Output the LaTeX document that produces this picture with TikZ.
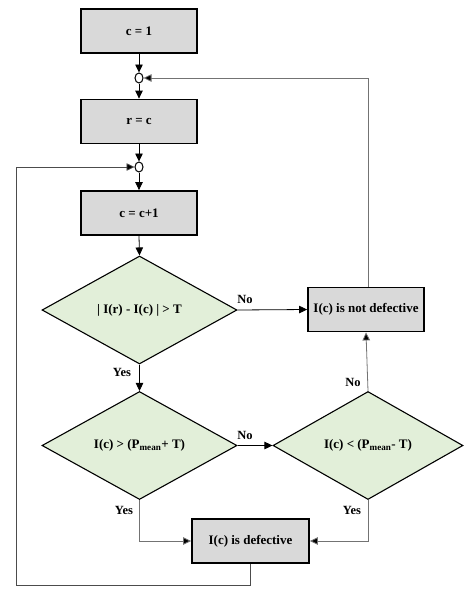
\documentclass[tikz,border=0pt]{standalone}
\usepackage{fontspec}
\setmainfont{Liberation Serif}
\usetikzlibrary{shapes.geometric,arrows.meta}
\definecolor{boxgray}{HTML}{D9D9D9}
\definecolor{dgreen}{HTML}{E2EFD9}
\tikzset{
  procbox/.style={draw=black, line width=1.8pt, fill=boxgray, minimum width=116pt, minimum height=44pt, inner sep=0pt, font=\fontsize{13}{15}\selectfont\bfseries},
  decbox/.style={draw=black, line width=1.1pt, fill=dgreen, shape=diamond, aspect=1.8, minimum width=195pt, minimum height=108pt, inner sep=0pt, font=\fontsize{13}{15}\selectfont\bfseries},
  junc/.style={draw=black, line width=1pt, fill=white, ellipse, minimum width=8pt, minimum height=10pt, inner sep=0pt},
  flow/.style={draw=black, line width=0.8pt, -{Triangle[length=8pt,width=7.5pt]}},
  gflow/.style={draw=black!55, line width=0.8pt, -{Triangle[length=8pt,width=7.5pt,fill=black]}},
  lab/.style={font=\fontsize{12.5}{14}\selectfont\bfseries, inner sep=0pt}
}
\begin{document}
\begin{tikzpicture}[x=1pt,y=-1pt]
\useasboundingbox (0,0) rectangle (474,592);
\node[procbox] (c1) at (139,31) {c = 1};
\node[junc] (j1) at (139,78) {};
\node[procbox] (rc) at (139,121.5) {r = c};
\node[junc] (j2) at (139,167) {};
\node[procbox] (cc) at (139,213) {c = c+1};
\node[decbox] (d1) at (139.5,310) {| I(r) - I(c) | > T};
\node[procbox] (nd) at (366,309.5) {I(c) is not defective};
\node[decbox] (d2) at (139.5,445.5) {I(c) > (P\textsubscript{mean}+ T)};
\node[decbox, minimum width=190pt] (d3) at (368,445.5) {I(c) < (P\textsubscript{mean}- T)};
\node[procbox, minimum width=117pt] (def) at (250.5,541) {I(c) is defective};
\coordinate (lb) at (250.5,585);
\coordinate (ll) at (16,585);

\draw[flow] (c1.south) -- (j1.north);
\draw[flow] (j1.south) -- (rc.north);
\draw[flow] (rc.south) -- (j2.north);
\draw[flow] (j2.south) -- (cc.north);
\draw[flow] (cc.south) -- (d1.north);
\draw[flow] (d1.east) -- (nd.west);
\draw[flow] (d1.south) -- (d2.north);
\draw[flow] (d2.east) -- (d3.west);
\draw[gflow] (d3.north) -- (nd.south);
\draw[gflow] (nd.north -| 368,0) -- (368,78) -- (j1.east);
\draw[gflow] (d2.south) |- (def.west);
\draw[gflow] (d3.south) |- (def.east);
\draw[gflow, draw=black!70] (def.south) -- (lb) -- (ll) |- (j2.west);

\node[lab] (n1) at (245,299) {No};
\node[lab] (y1) at (122,372) {Yes};
\node[lab] (n2) at (245,435) {No};
\node[lab] (n3) at (353,382) {No};
\node[lab] (y2) at (124,510) {Yes};
\node[lab] (y3) at (352,510) {Yes};
\end{tikzpicture}
\end{document}
